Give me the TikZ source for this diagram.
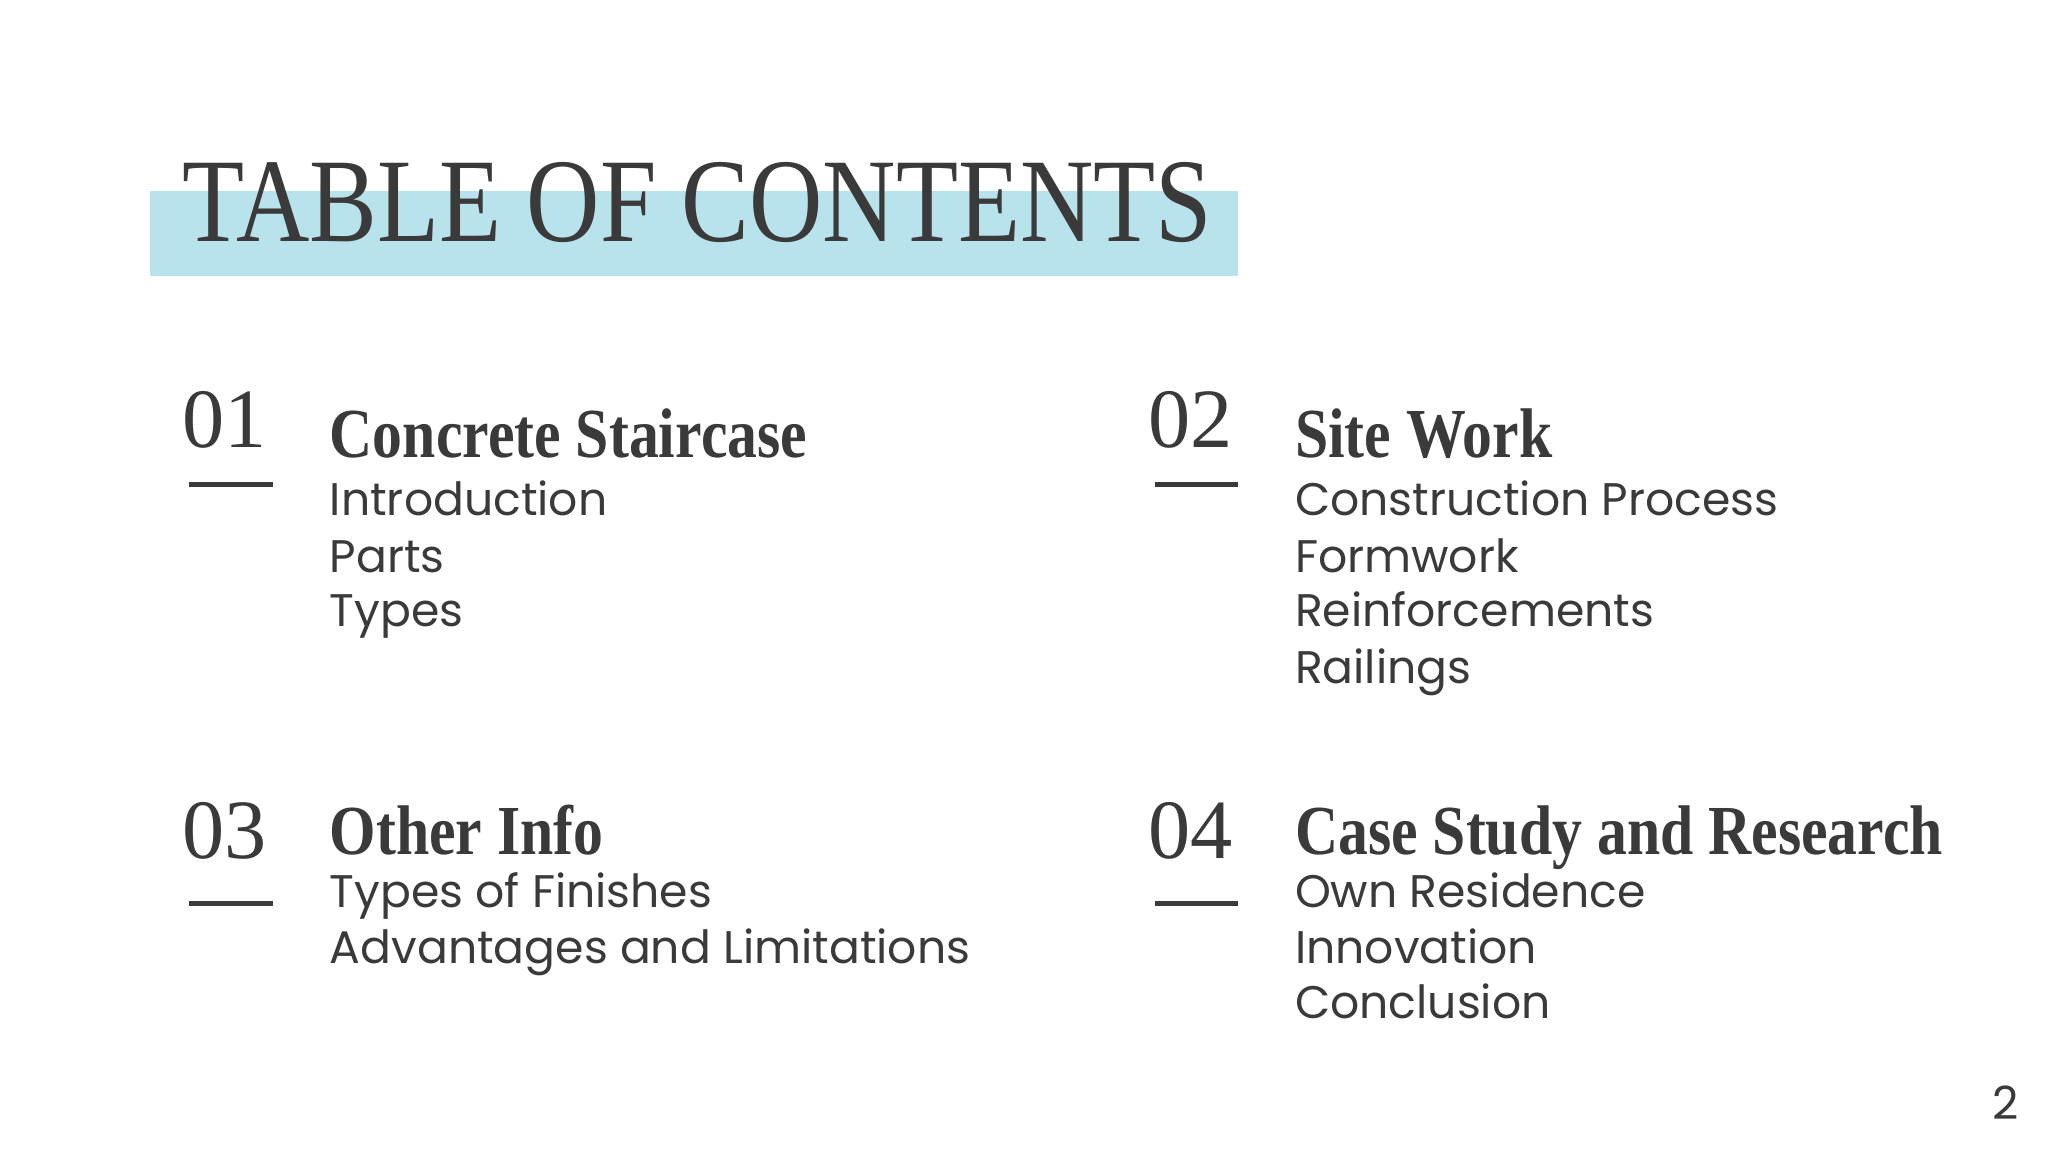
\documentclass[tikz,border=0pt]{standalone}
\usepackage{fontspec}
\setmainfont{Liberation Serif}
\newfontfamily\itemfont{Poppins}
\usepackage{tikz}
\definecolor{band}{HTML}{B9E3EC}
\definecolor{ink}{HTML}{3A3A3A}

\tikzset{
  every node/.style={inner sep=0pt, anchor=base west, text=ink},
  numtext/.style={font=\fontsize{24}{26}\selectfont},
  headtext/.style={font=\fontsize{20}{22}\selectfont\bfseries},
  itemtext/.style={font=\itemfont\fontsize{13}{15.7}\selectfont}
}
\newcommand{\narrow}[1]{\scalebox{0.85}[1]{#1}}

\begin{document}
\begin{tikzpicture}[x=0.01306cm, y=-0.01306cm]
\useasboundingbox (0,0) rectangle (1568,882);
% Title
\fill[band] (115,146) rectangle (948,211);
\node (title) at (139,185) {\fontsize{34}{36}\selectfont\narrow{TABLE OF CONTENTS}};

% Section 01
\node[numtext] (n1) at (139,343) {01};
\draw[ink, line width=1.5pt] (145,371) -- (209,371);
\node[headtext] (h1) at (252,350) {\narrow{Concrete Staircase}};
\node[itemtext] (i11) at (252,395) {Introduction};
\node[itemtext] (i12) at (252,438) {Parts};
\node[itemtext] (i13) at (252,480) {Types};

% Section 02
\node[numtext] (n2) at (879,343) {02};
\draw[ink, line width=1.5pt] (884,371) -- (948,371);
\node[headtext] (h2) at (991,350) {\narrow{Site Work}};
\node[itemtext] (i21) at (991,395) {Construction Process};
\node[itemtext] (i22) at (991,438) {Formwork};
\node[itemtext] (i23) at (991,480) {Reinforcements};
\node[itemtext] (i24) at (991,523) {Railings};

% Section 03
\node[numtext] (n3) at (139,657) {03};
\draw[ink, line width=1.5pt] (145,692) -- (209,692);
\node[headtext] (h3) at (252,654) {\narrow{Other Info}};
\node[itemtext] (i31) at (252,695) {Types of Finishes};
\node[itemtext] (i32) at (252,738) {Advantages and Limitations};

% Section 04
\node[numtext] (n4) at (879,657) {04};
\draw[ink, line width=1.5pt] (884,692) -- (948,692);
\node[headtext] (h4) at (991,654) {\narrow{Case Study and Research}};
\node[itemtext] (i41) at (991,695) {Own Residence};
\node[itemtext] (i42) at (991,738) {Innovation};
\node[itemtext] (i43) at (991,780) {Conclusion};

% Page number
\node[itemtext, anchor=base east] (page) at (1546,857) {2};
\end{tikzpicture}
\end{document}
